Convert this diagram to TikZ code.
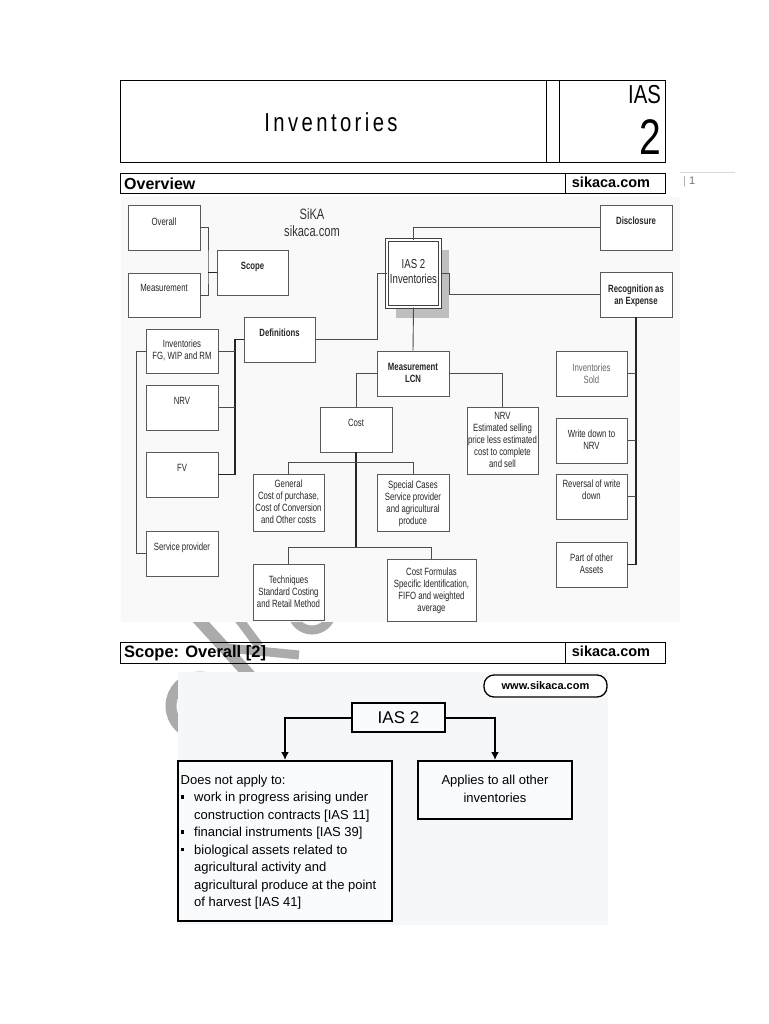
\documentclass[tikz,border=0pt]{standalone}
\usepackage{fontspec}
\setmainfont{Liberation Sans}
\newfontfamily\nar[FakeStretch=0.74]{Liberation Sans}
\newfontfamily\hdr[FakeStretch=0.78]{Liberation Sans}
\usetikzlibrary{arrows.meta}
\definecolor{botbg}{RGB}{246,247,249}
\definecolor{boxbg}{RGB}{250,251,253}
\newcommand\bx[8][]{%
  \node[dbox,#1,minimum width={#5-#3},minimum height={#6-#4}] (#2) at ({(#3+#5)/2},{(#4+#6)/2}) {};
  \node[dtxt,anchor=north] (#2t) at ({(#3+#5)/2},{#7-4}) {#8};}
\newcommand\bul{\makebox[13.5pt][l]{\rule[3pt]{3pt}{3.6pt}}}
\newcommand\ind{\hspace*{13.5pt}}
\begin{document}
\begin{tikzpicture}[x=1pt,y=-1pt,
  dbox/.style={draw=black!65,fill=white,line width=0.8pt,inner sep=0pt},
  dtxt/.style={font=\nar\fontsize{10.5}{12}\selectfont,align=center,inner sep=0pt,text=black!85},
  ln/.style={draw=black!70,line width=0.9pt},
  lnb/.style={draw=black!85,line width=1.3pt},
  bar/.style={draw=black,line width=0.9pt},
  wm/.style={draw=black!33},
  bbox/.style={draw=black,line width=2pt,inner sep=0pt,fill=boxbg},
  arr/.style={draw=black,line width=2pt,-{Latex[length=8pt,width=8pt]}}]
\useasboundingbox[fill=white] (0,0) rectangle (768,1024);
% watermark
\draw[wm,line width=12pt] (190,610) -- (252,678);
\draw[wm,line width=9pt] (238,618) -- (259,646);
\draw[wm,line width=9pt] (217,647) -- (299,655);
\draw[wm,line width=9pt] (312,610) circle[radius=20];
\draw[wm,line width=11pt] (200,706) circle[radius=29];
% header
\node[bar,minimum width=545,minimum height=82,inner sep=0pt] (head) at (392.5,121) {};
\coordinate (v1) at (546,80);
\coordinate (v2) at (559,80);
\draw[bar] (v1) -- (v1 |- head.south);
\draw[bar] (v2) -- (v2 |- head.south);
\node[font=\hdr\fontsize{26}{26}\selectfont,inner sep=0pt] (title) at (331,122)
  {I\hspace{3.4pt}n\hspace{3.4pt}v\hspace{3.4pt}e\hspace{3.4pt}n\hspace{3.4pt}t\hspace{3.4pt}o\hspace{3.4pt}r\hspace{3.4pt}i\hspace{3.4pt}e\hspace{3.4pt}s};
\node[font=\hdr\fontsize{26}{26}\selectfont,anchor=east,inner sep=0pt] (ias) at (661,95) {IAS};
\node[font=\hdr\fontsize{50}{50}\selectfont,anchor=east,inner sep=0pt] (two) at (661,137) {2};
% overview bar
\node[bar,minimum width=545,minimum height=20,inner sep=0pt] (ovbar) at (392.5,183) {};
\coordinate (v3) at (565,173);
\draw[bar] (v3) -- (v3 |- ovbar.south);
\node[font=\bfseries\fontsize{16}{16}\selectfont,anchor=west,inner sep=0pt] (ovt) at (124,183.5) {Overview};
\node[font=\bfseries\fontsize{14.5}{14.5}\selectfont,inner sep=0pt] (ovs) at (611,182) {sikaca.com};
\node[font=\fontsize{11}{11}\selectfont,text=black!55,anchor=west,inner sep=0pt] (pg) at (683,182) {\textcolor{black!35}{|} 1};
\coordinate (pl1) at (680,172);
\coordinate (pl2) at (735,172);
\draw[black!15,line width=0.6pt] (pl1) -- (pl2);
% diagram background
\fill[black!2.5] (121,197) rectangle (680,622);
\node[font=\nar\fontsize{15}{17}\selectfont,text=black!80,align=center,inner sep=0pt] (sika) at (312,223) {SiKA\\sikaca.com};
% shadow of IAS 2
\fill[black!25] (396,250) rectangle (449,318);
% boxes
\bx{overall}{128}{205}{200}{250}{222}{Overall}
\bx{meas}{128}{273}{200}{317}{288}{Measurement}
\bx{scope}{217}{250}{288}{295}{266}{\bfseries Scope}
\bx{defs}{244}{317}{315}{362}{333}{\bfseries Definitions}
\bx{inv}{146}{329}{218}{373}{344}{Inventories\\FG, WIP and RM}
\bx{nrv}{146}{385}{218}{430}{401}{NRV}
\bx{fv}{146}{452}{218}{497}{468}{FV}
\bx{serv}{146}{531}{218}{576}{547}{Service provider}
\node[dbox,double=white,double distance=1.4pt,draw=black!75,line width=1pt,minimum width=53,minimum height=67] (iasb) at (413.5,273.5) {};
\node[dtxt,font=\nar\fontsize{13}{15}\selectfont,anchor=north] (iasbt) at (413.5,259) {IAS 2\\Inventories};
\bx{disc}{600}{205}{672}{250}{221}{\bfseries Disclosure}
\bx{recog}{600}{272}{672}{317}{289}{\bfseries Recognition as\\\bfseries an Expense}
\bx{mlcn}{377}{351}{449}{396}{367}{\bfseries Measurement\\\bfseries LCN}
\bx{sold}{556}{351}{627}{396}{368}{\color{black!60}Inventories\\\color{black!60}Sold}
\bx{wdown}{556}{418}{627}{463}{434}{Write down to\\NRV}
\bx{rev}{556}{474}{627}{519}{484}{Reversal of write\\down}
\bx{part}{556}{542}{627}{587}{558}{Part of other\\Assets}
\bx{nrvb}{467}{407}{538}{474}{416}{NRV\\Estimated selling\\price less estimated\\cost to complete\\and sell}
\bx{cost}{320}{407}{392}{452}{423}{Cost}
\bx{gen}{253}{474}{324}{531}{484}{General\\Cost of purchase,\\Cost of Conversion\\and Other costs}
\bx{spec}{377}{474}{449}{531}{485}{Special Cases\\Service provider\\and agricultural\\produce}
\bx{tech}{253}{564}{324}{620}{580}{Techniques\\Standard Costing\\and Retail Method}
\bx{form}{387}{559}{476}{621}{572}{Cost Formulas\\Specific Identification,\\FIFO and weighted\\average}
% connectors
\coordinate (j1) at (208,272.5);
\draw[ln] (overall.east) -| (j1) |- (meas.east);
\draw[lnb] (j1) -- (scope.west);
\coordinate (j2) at (235,339.5);
\draw[lnb] (defs.west) -- (j2) |- (fv.east);
\draw[ln] (inv.east) -- (inv.east -| j2);
\draw[ln] (nrv.east) -- (nrv.east -| j2);
\draw[ln] (inv.west) -- ++(-9,0) |- (serv.west);
\draw[ln] (iasb.west) -- ++(-9,0) |- (defs.east);
\draw[ln] (iasb.north) |- (disc.west);
\draw[ln] (iasb.east) -- ++(9,0) |- (recog.west);
\draw[ln] (iasb.south) -- (mlcn.north);
\draw[lnb] (recog.south) |- (part.east);
\draw[ln] (sold.east) -- (sold.east -| recog.south);
\draw[ln] (wdown.east) -- (wdown.east -| recog.south);
\draw[ln] (rev.east) -- (rev.east -| recog.south);
\draw[ln] (mlcn.east) -| (nrvb.north);
\draw[ln] (mlcn.west) -| (cost.north);
\coordinate (c2) at (356,548);
\draw[lnb] (cost.south) -- (c2);
\draw[ln] (gen.north) -- ++(0,-11) -| (spec.north);
\draw[ln] (tech.north) -- ++(0,-16) -| (form.north);
% scope bar
\node[bar,minimum width=545,minimum height=21,inner sep=0pt] (scbar) at (392.5,652.5) {};
\coordinate (v4) at (565,642);
\draw[bar] (v4) -- (v4 |- scbar.south);
\node[font=\bfseries\fontsize{16.5}{16.5}\selectfont,anchor=west,inner sep=0pt] (sct) at (124,653) {Scope: Overall [2]};
\node[font=\bfseries\fontsize{14.5}{14.5}\selectfont,inner sep=0pt] (scs) at (611,651) {sikaca.com};
% bottom image
\fill[botbg] (178,672) rectangle (608,925);
\node[draw=black,line width=1.3pt,rounded corners=10pt,fill=white,minimum width=123,minimum height=22,inner sep=0pt,font=\bfseries\fontsize{11}{11}\selectfont] (www) at (545.5,686) {www.sikaca.com};
\node[bbox,minimum width=93,minimum height=29,font=\fontsize{17}{17}\selectfont] (ias2) at (398.5,717.5) {IAS 2};
\node[bbox,minimum width=214,minimum height=160] (lb) at (285,841) {};
\node[bbox,minimum width=154,minimum height=58] (rb) at (495,790) {};
\draw[arr] (ias2.west) -| (lb.north);
\draw[arr] (ias2.east) -| (rb.north);
\node[anchor=north west,align=left,inner sep=0pt,font=\fontsize{13}{17.5}\selectfont] (lbt) at (180.5,774.5)
 {Does not apply to:\\
  \bul work in progress arising under\\
  \ind construction contracts [IAS 11]\\
  \bul financial instruments [IAS 39]\\
  \bul biological assets related to\\
  \ind agricultural activity and\\
  \ind agricultural produce at the point\\
  \ind of harvest [IAS 41]};
\node[align=center,inner sep=0pt,font=\fontsize{13}{17.5}\selectfont] (rbt) at (495,789) {Applies to all other\\inventories};
\end{tikzpicture}
\end{document}
